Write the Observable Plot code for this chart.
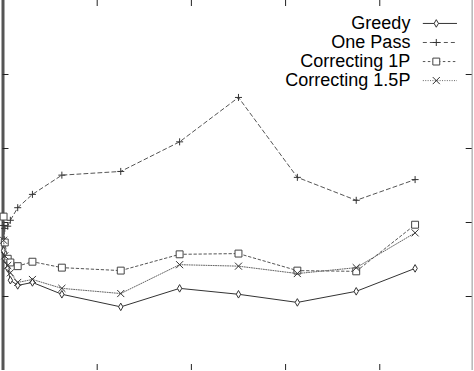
<!DOCTYPE html>
<html><head><meta charset="utf-8">
<script src="https://cdn.jsdelivr.net/npm/d3@7"></script>
<script src="https://cdn.jsdelivr.net/npm/@observablehq/plot@0.6"></script>
<style>html,body{margin:0;padding:0;background:#fff}#chart svg{display:block}</style>
</head><body><div id="chart"></div>
<script>
const xValues = [0.05, 0.15, 0.4, 0.625, 1.25, 2.5, 5, 10, 15, 20, 25, 30, 35];
const greedy = [1.62, 1.51, 1.38, 1.22, 1.15, 1.19, 1.03, 0.86, 1.11, 1.03, 0.92, 1.07, 1.38];
const onePass = [1.96, 1.92, 1.95, 2.03, 2.20, 2.38, 2.64, 2.69, 3.09, 3.69, 2.61, 2.30, 2.58];
const correcting1P = [2.08, 1.73, 1.51, 1.46, 1.41, 1.47, 1.39, 1.35, 1.57, 1.58, 1.35, 1.34, 1.97];
const correcting15P = [1.76, 1.55, 1.42, 1.32, 1.19, 1.23, 1.11, 1.04, 1.43, 1.41, 1.31, 1.39, 1.86];
const seriesNames = ["Greedy", "One Pass", "Correcting 1P", "Correcting 1.5P"];
const xTicks = [8, 16, 24, 32];
const yTicks = [1, 2, 3, 4];

const seriesValues = [greedy, onePass, correcting1P, correcting15P];
const looks = {
  "Greedy": {dash: "none", symbol: "diamond", r: 2.3, color: "#333", dot: "#333"},
  "One Pass": {dash: "4,3", symbol: "plus", r: 2.4, color: "#555", dot: "#333"},
  "Correcting 1P": {dash: "2.5,2.5", symbol: "square", r: 3.9, color: "#555", dot: "#444"},
  "Correcting 1.5P": {dash: "1,1.4", symbol: "times", r: 3.3, color: "#666", dot: "#333"}
};

const rows = seriesNames.flatMap((name, s) => xValues.map((x, i) => ({name, x, y: seriesValues[s][i]})));

const X0 = 0, X1 = 39.85, Y0 = 0, Y1 = 5;
const legend = seriesNames.map((name, i) => ({name, y: 4.69 - i * 0.2575}));
const txtX = 34.6, lineA = 35.7, lineB = 38.6, markX = 36.8;

const marks = [];
// frame borders
marks.push(Plot.ruleX([X0], {stroke: "#555", strokeWidth: 3}));
marks.push(Plot.ruleX([X1], {stroke: "#bbb", strokeWidth: 1.6}));
// ticks
marks.push(Plot.ruleX(xTicks, {y1: Y1, y2: Y1 - 6 / 74, stroke: "#222", strokeWidth: 1}));
marks.push(Plot.ruleX(xTicks, {y1: Y0, y2: Y0 + 6 / 74, stroke: "#222", strokeWidth: 1}));
marks.push(Plot.ruleY(yTicks, {x1: X0, x2: X0 + 6 / 11.78, stroke: "#222", strokeWidth: 1}));
marks.push(Plot.ruleY(yTicks, {x1: X1, x2: X1 - 6 / 11.78, stroke: "#222", strokeWidth: 1}));

for (const name of seriesNames) {
  const lk = looks[name];
  const data = rows.filter(d => d.name === name);
  marks.push(Plot.line(data, {x: "x", y: "y", stroke: lk.color, strokeWidth: 1, strokeDasharray: lk.dash}));
  marks.push(Plot.dot(data, {x: "x", y: "y", symbol: () => lk.symbol, r: lk.r, stroke: lk.dot, strokeWidth: 1, fill: lk.symbol === "diamond" || lk.symbol === "square" ? "white" : "none"}));
  const lg = legend.filter(d => d.name === name);
  marks.push(Plot.text(lg, {x: txtX, y: "y", text: "name", textAnchor: "end", lineAnchor: "middle", fill: "#000", fontSize: 18}));
  marks.push(Plot.ruleY(lg, {y: "y", x1: lineA, x2: lineB, stroke: lk.color, strokeWidth: 1, strokeDasharray: lk.dash}));
  marks.push(Plot.dot(lg, {x: markX, y: "y", symbol: () => lk.symbol, r: lk.r, stroke: lk.dot, strokeWidth: 1, fill: lk.symbol === "diamond" || lk.symbol === "square" ? "white" : "none"}));
}

const chart = Plot.plot({
  width: 474,
  height: 371,
  marginLeft: 2.5,
  marginRight: 2.3,
  marginTop: 0,
  marginBottom: 1,
  x: {domain: [X0, X1], axis: null},
  y: {domain: [Y0, Y1], axis: null},
  symbol: {type: "identity"},
  style: {fontFamily: "'Liberation Sans', Arial, sans-serif", fontSize: "18px", background: "#fff", color: "#000", overflow: "visible"},
  marks
});
document.getElementById("chart").append(chart);
</script>
</body></html>
